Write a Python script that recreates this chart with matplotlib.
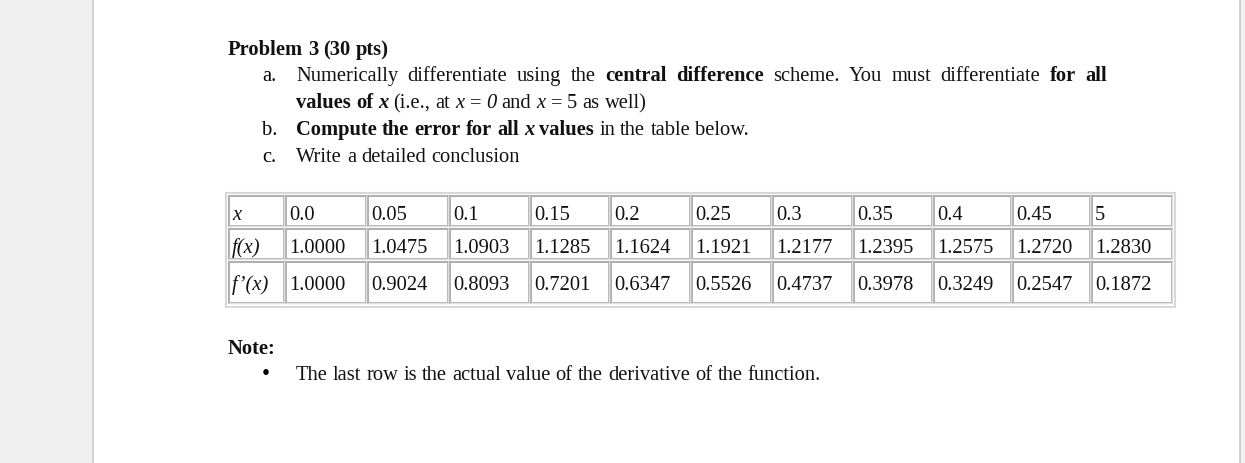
import matplotlib
matplotlib.use("Agg")
import matplotlib.pyplot as plt
from matplotlib.patches import Rectangle

x_vals = ["0.0", "0.05", "0.1", "0.15", "0.2", "0.25", "0.3", "0.35", "0.4", "0.45", "5"]
f_vals = ["1.0000", "1.0475", "1.0903", "1.1285", "1.1624", "1.1921", "1.2177", "1.2395", "1.2575", "1.2720", "1.2830"]
df_vals = ["1.0000", "0.9024", "0.8093", "0.7201", "0.6347", "0.5526", "0.4737", "0.3978", "0.3249", "0.2547", "0.1872"]
row_labels = ["x", "f(x)", "f’(x)"]

W, H = 1245, 464
fig = plt.figure(figsize=(W/100, H/100), dpi=100)
ax = fig.add_axes([0, 0, 1, 1])
ax.set_xlim(0, W); ax.set_ylim(H, 0); ax.axis("off")
ax.add_patch(Rectangle((0, 0), 92, H, color="#f0f0f0", lw=0))
ax.axvline(92.5, color="#c8c8c8", lw=1.2)
ax.add_patch(Rectangle((1240, 0), 5, H, color="#f0f0f0", lw=0))
ax.axvline(1240, color="#c8c8c8", lw=1.2)

FS = 14.8
FAM = "Liberation Serif"
fig.canvas.draw()
rend = fig.canvas.get_renderer()

def width(s, weight="normal", style="normal"):
    t = ax.text(0, 0, s, fontsize=FS, family=FAM, weight=weight, style=style)
    w = t.get_window_extent(rend).width
    t.remove()
    return w

def runs(x, y, parts, justify_to=None):
    words = []
    for s, wt, st in parts:
        toks = s.split(" ")
        for i, tok in enumerate(toks):
            words.append((tok, wt, st, i < len(toks) - 1))
    space = width("a a") - width("aa")
    if justify_to is not None:
        total = sum(width(w, wt, st) for w, wt, st, _ in words if w)
        nsp = sum(1 for w in words if w[3])
        space = (justify_to - x - total) / max(nsp, 1)
    cx = x
    for w, wt, st, sp in words:
        if w:
            ax.text(cx, y, w, fontsize=FS, family=FAM, weight=wt, style=st, va="baseline", color="#111111")
            cx += width(w, wt, st)
        if sp:
            cx += space

N, B, I = "normal", "bold", "italic"
runs(228, 55, [("Problem 3 (30 pts)", B, N)])
ax.text(262, 81, "a.", fontsize=FS, family=FAM, va="baseline")
runs(296, 81, [("Numerically differentiate using the ", N, N), ("central difference", B, N),
               (" scheme. You must differentiate ", N, N), ("for all", B, N)], justify_to=1107)
runs(296, 108, [("values of ", B, N), ("x", B, I), (" (i.e., at ", N, N), ("x", N, I), (" = ", N, N),
                ("0", N, I), (" and ", N, N), ("x", N, I), (" = 5 as well)", N, N)])
ax.text(262, 135, "b.", fontsize=FS, family=FAM, va="baseline")
runs(296, 135, [("Compute the error for all ", B, N), ("x", B, I), (" values", B, N), (" in the table below.", N, N)])
ax.text(262, 162, "c.", fontsize=FS, family=FAM, va="baseline")
runs(296, 162, [("Write a detailed conclusion", N, N)])

runs(228, 354, [("Note:", B, N)])
ax.text(262, 380, "•", fontsize=FS + 2, family=FAM, va="baseline")
runs(296, 380, [("The last row is the actual value of the derivative of the function.", N, N)])

col_w = [57] + [82, 82, 81, 80, 81, 81, 81, 80, 79, 79, 82]
row_h = [33, 33, 44]
x0, y0 = 226, 194
tot_w = sum(col_w); tot_h = sum(row_h) + 4
ax.add_patch(Rectangle((x0, y0), tot_w + 4, tot_h, fill=False, ec="#d8d8d8", lw=1.5))
rows = [[row_labels[0]] + x_vals, [row_labels[1]] + f_vals, [row_labels[2]] + df_vals]
cy = y0 + 3
for r, vals in enumerate(rows):
    cx = x0 + 3
    for c, v in enumerate(vals):
        w = col_w[c] - 2; h = row_h[r] - 3
        ax.add_patch(Rectangle((cx, cy), w, h, fill=False, ec="#a8a8a8", lw=1.3))
        ax.plot([cx + w, cx + w, cx], [cy, cy + h, cy + h], color="#e0e0e0", lw=1)
        ax.text(cx + 3, cy + (23 if r < 2 else 27), v, fontsize=FS, family=FAM, va="baseline",
                style=("italic" if c == 0 else "normal"), color="#111111")
        cx += col_w[c]
    cy += row_h[r]

fig.savefig("out.png", dpi=100)
